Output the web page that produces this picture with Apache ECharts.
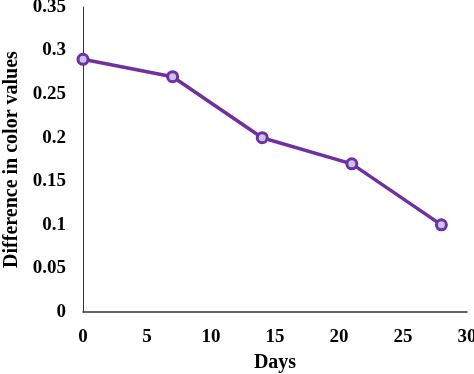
<!DOCTYPE html>
<html>
<head>
<meta charset="utf-8">
<script src="https://cdn.jsdelivr.net/npm/echarts@6/dist/echarts.min.js"></script>
<style>
  html, body { margin: 0; padding: 0; background: #fff; }
  #chart { width: 474px; height: 374px; }
</style>
</head>
<body>
<div id="chart"></div>
<script>
var days = [0, 7, 14, 21, 28];
var colorDiff = [0.29, 0.27, 0.2, 0.17, 0.1];

var chartDom = document.getElementById('chart');
var myChart = echarts.init(chartDom);

var tickFont = {
  fontFamily: 'Liberation Serif',
  fontWeight: 'bold',
  fontSize: 19,
  color: '#000'
};
var nameFont = {
  fontFamily: 'Liberation Serif',
  fontWeight: 'bold',
  fontSize: 20,
  color: '#000'
};

var option = {
  animation: false,
  grid: { left: 83, right: 7, top: 7, bottom: 62, outerBoundsMode: 'none' },
  xAxis: {
    type: 'value',
    min: 0,
    max: 30,
    interval: 5,
    name: 'Days',
    nameLocation: 'middle',
    nameGap: 41,
    nameTextStyle: nameFont,
    axisLine: { show: true, lineStyle: { color: '#333', width: 1.5 } },
    axisTick: { show: false },
    splitLine: { show: false },
    axisLabel: Object.assign({ margin: 16, hideOverlap: false }, tickFont)
  },
  yAxis: {
    type: 'value',
    min: 0,
    max: 0.35,
    interval: 0.05,
    name: 'Difference in color values',
    nameLocation: 'middle',
    nameGap: 61,
    nameTextStyle: nameFont,
    axisLine: { show: true, lineStyle: { color: '#333', width: 1 } },
    axisTick: { show: false },
    splitLine: { show: false },
    axisLabel: Object.assign({ margin: 17 }, tickFont)
  },
  series: [
    {
      type: 'line',
      data: days.map(function (d, i) { return [d, colorDiff[i]]; }),
      symbol: 'circle',
      symbolSize: 10,
      lineStyle: { color: '#7030A0', width: 3.5 },
      itemStyle: { color: '#c9c3f2', borderColor: '#7030A0', borderWidth: 3 }
    }
  ]
};

option && myChart.setOption(option);
</script>
</body>
</html>
